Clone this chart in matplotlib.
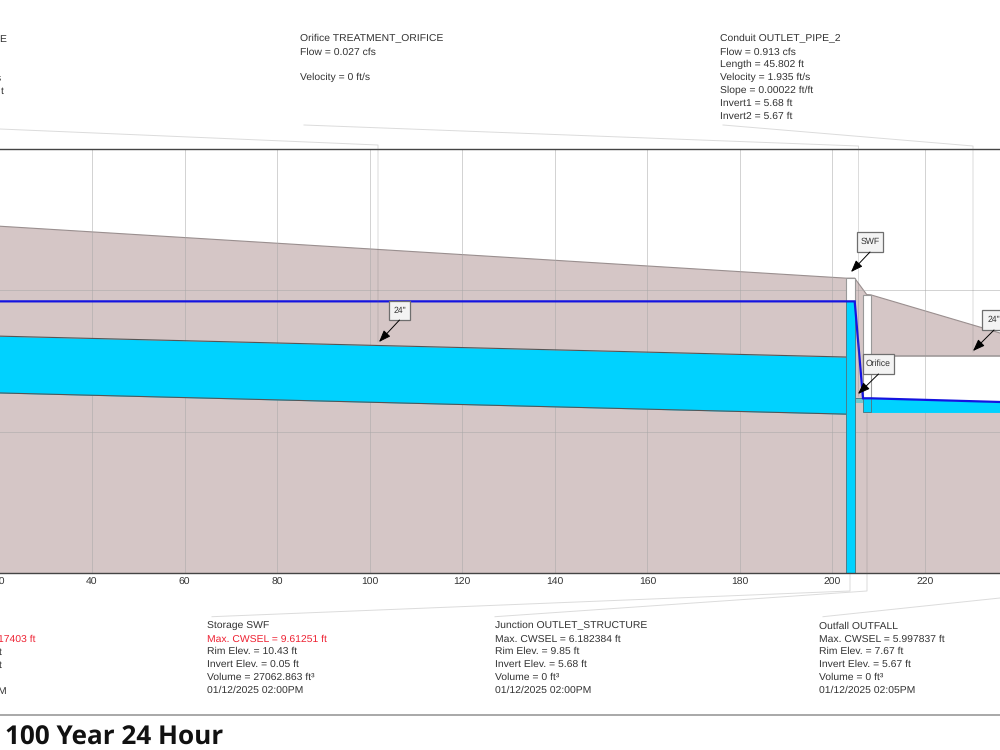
import matplotlib
matplotlib.use("Agg")
import matplotlib.pyplot as plt
from matplotlib.patches import Rectangle

plt.rcParams["text.hinting"] = "no_hinting"
plt.rcParams["text.hinting_factor"] = 8

# ---- profile data (station ft, elevation ft)
ground_x = [19.9, 203.0, 204.8, 207.4, 208.3, 236.2]
ground_y = [12.27, 10.43, 10.43, 9.85, 9.84, 8.49]
pipe1_x = [19.9, 203.0]
pipe1_crown = [8.38, 7.64]
pipe1_invert = [6.37, 5.62]
pipe2_x = [208.3, 236.2]
pipe2_crown = [7.68, 7.68]
pipe2_invert = [5.68, 5.68]
pipe2_water = [6.18, 6.05]
hgl_x = [19.9, 203.0, 204.8, 206.6, 208.3, 236.2]
hgl_y = [9.61, 9.61, 9.61, 6.18, 6.18, 6.05]
storage_x = [203.0, 204.8]
storage_rim, storage_water, storage_invert = 10.43, 9.61, 0.0
junction_x = [206.6, 208.3]
junction_rim, junction_water, junction_invert = 9.85, 6.18, 5.68
orifice_x = [204.8, 206.6]
orifice_y = [6.03, 6.18]
x_ticks = list(range(20, 241, 20))
y_grid = [5, 10]

# ---- annotation text
blocks = [
    (299.5, 38, ["Orifice TREATMENT_ORIFICE", "Flow = 0.027 cfs", "", "Velocity = 0 ft/s"], None),
    (719.5, 38, ["Conduit OUTLET_PIPE_2", "Flow = 0.913 cfs", "Length = 45.802 ft",
                 "Velocity = 1.935 ft/s", "Slope = 0.00022 ft/ft", "Invert1 = 5.68 ft",
                 "Invert2 = 5.67 ft"], None),
    (207, 625, ["Storage SWF", "Max. CWSEL = 9.61251 ft", "Rim Elev. = 10.43 ft",
                "Invert Elev. = 0.05 ft", "Volume = 27062.863 ft³", "01/12/2025 02:00PM"], 1),
    (495, 625, ["Junction OUTLET_STRUCTURE", "Max. CWSEL = 6.182384 ft", "Rim Elev. = 9.85 ft",
                "Invert Elev. = 5.68 ft", "Volume = 0 ft³", "01/12/2025 02:00PM"], None),
    (819, 625, ["Outfall OUTFALL", "Max. CWSEL = 5.997837 ft", "Rim Elev. = 7.67 ft",
                "Invert Elev. = 5.67 ft", "Volume = 0 ft³", "01/12/2025 02:05PM"], None),
]
cut_off = [(6, 38, "E", "#333333"), (1, 77, "s", "#333333"), (4, 90, "t", "#333333"),
           (35, 638, "17403 ft", "#ee2233"), (2, 651, "t", "#333333"),
           (2, 664, "t", "#333333"), (6, 690, "M", "#333333")]
leaders = [
    ([0, 378, 378], [129, 145, 342]),
    ([304, 858.5, 858.5], [125, 146, 396]),
    ([723, 973, 973], [125, 146, 352]),
    ([212, 850, 850], [616.7, 591, 573]),
    ([495, 867, 867], [616.7, 591, 414]),
    ([823, 1000], [616.7, 598]),
]
# text, box left, box top, box width, box height, arrow tip
callouts = [
    ("SWF", 857, 232, 26, 20, (851, 272)),
    ('24"', 389, 301, 21, 19, (379, 342)),
    ('24"', 982, 310, 24, 20, (973, 351)),
    ("Orifice", 863, 354, 31, 20, (858, 394)),
]

GROUND = "#d5c6c6"
CYAN = "#00d2ff"
BLUE = "#1414e0"
EDGE = "#4a7f8a"
TXT = "#333333"
FONT = "Liberation Sans"
FS = 7.5

fig = plt.figure(figsize=(10, 7.5), dpi=100, facecolor="white")
ax = fig.add_axes([-0.001, (750 - 573) / 750, 1.001, (573 - 149) / 750])

# ground with the void of the open outlet pipe left out
ax.fill_between(ground_x, 0, ground_y, color=GROUND, lw=0, zorder=1)
ax.plot(ground_x, ground_y, color="#9a8f8f", lw=0.8, zorder=1.2)
ax.fill_between(pipe2_x, pipe2_invert, pipe2_crown, color="white", lw=0, zorder=1.1)

# grid over the ground, under the water
ax.set_xticks(x_ticks)
ax.set_yticks(y_grid)
ax.set_yticklabels([])
ax.set_xlim(19.904, 236.2)
ax.set_ylim(0, 15)
ax.grid(True, color="#a8a8a8", lw=0.6, alpha=0.6, zorder=2)
ax.set_axisbelow(False)
for g in ax.get_xgridlines() + ax.get_ygridlines():
    g.set_zorder(2)
ax.tick_params(axis="both", length=0)
ax.tick_params(axis="x", pad=3, labelsize=FS, labelcolor=TXT)
for lab in ax.get_xticklabels():
    lab.set_fontfamily(FONT)
for s in ("left", "right"):
    ax.spines[s].set_visible(False)
for s in ("top", "bottom"):
    ax.spines[s].set_color("#444444")
    ax.spines[s].set_linewidth(1.0)
    ax.spines[s].set_zorder(8)

# conduits
ax.fill_between(pipe1_x, pipe1_invert, pipe1_crown, color=CYAN, lw=0, zorder=3)
ax.plot(pipe1_x, pipe1_crown, color="#555555", lw=0.8, zorder=3.2)
ax.plot(pipe1_x, pipe1_invert, color="#555555", lw=0.8, zorder=3.2)
ax.fill_between(pipe2_x, pipe2_invert, pipe2_water, color=CYAN, lw=0, zorder=3)
ax.plot(pipe2_x, pipe2_crown, color="#a09a9a", lw=1.2, zorder=3.2)

# storage node, junction node, orifice
for (x0, x1), rim, water, inv in [(storage_x, storage_rim, storage_water, storage_invert),
                                  (junction_x, junction_rim, junction_water, junction_invert)]:
    ax.add_patch(Rectangle((x0, water), x1 - x0, rim - water, fc="white", ec="#999999", lw=0.8, zorder=4))
    ax.add_patch(Rectangle((x0, inv), x1 - x0, water - inv, fc=CYAN, ec=EDGE, lw=0.7, zorder=4))
ax.fill_between(orifice_x, orifice_y[0], orifice_y[1], color="#6fc7cf", lw=0, zorder=3.5)
ax.plot(orifice_x, [orifice_y[1]] * 2, color=EDGE, lw=0.7, zorder=3.6)

# hydraulic grade line
ax.plot(hgl_x, hgl_y, color=BLUE, lw=1.6, zorder=6, solid_joinstyle="miter")

# overlay in picture coordinates for the report-style annotations
ov = fig.add_axes([0, 0, 1, 1], facecolor="none")
ov.set_xlim(0, 1000)
ov.set_ylim(750, 0)
ov.axis("off")

for xs, ys in leaders:
    ov.plot(xs, ys, color="#666666", alpha=0.23, lw=0.7, zorder=1)

ov.plot([0, 1000], [715, 715], color="#a8a8a8", lw=1.4, zorder=1)

line_h = 12.95
for x, y, lines, red in blocks:
    for i, s in enumerate(lines):
        ov.text(x, y + 3.5 + i * line_h, s, family=FONT, fontsize=FS, va="baseline", ha="left",
                color="#ee2233" if red == i else TXT)
for x, y, s, c in cut_off:
    ov.text(x, y + 3.5, s, family=FONT, fontsize=FS, va="baseline", ha="right", color=c)

for s, bx, by, bw, bh, tip in callouts:
    ov.add_patch(Rectangle((bx, by), bw, bh, fc="#f3f3f3", ec="#6e6e6e", lw=0.9, zorder=6))
    ov.text(bx + bw / 2, by + bh / 2, s, family=FONT, fontsize=6.2, color=TXT,
            ha="center", va="center", zorder=7)
    ov.annotate("", xy=tip, xytext=(bx + bw / 2, by + bh), zorder=7,
                arrowprops=dict(arrowstyle="-|>,head_length=0.8,head_width=0.3", color="black",
                                lw=0.7, shrinkA=0, shrinkB=0, mutation_scale=9))

ov.text(5, 738, "100 Year 24 Hour", family="Open Sans", fontweight="bold", fontsize=18.8,
        va="center", ha="left", color="#111111")

fig.savefig("out.png", dpi=100)
